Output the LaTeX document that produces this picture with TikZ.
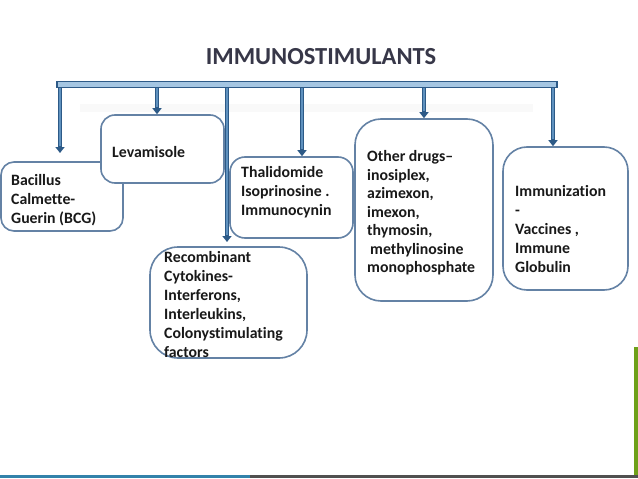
\documentclass[tikz,border=0pt]{standalone}
\usepackage{fontspec}
\setmainfont{Carlito}[Ligatures={TeX,NoCommon}]
\usetikzlibrary{arrows.meta}
\definecolor{conncol}{RGB}{45,90,135}
\definecolor{conninner}{RGB}{95,145,190}
\definecolor{barfill}{RGB}{165,198,226}
\definecolor{boxline}{RGB}{100,130,165}
\definecolor{txtc}{RGB}{25,25,25}
\definecolor{titlec}{RGB}{55,55,72}
\definecolor{greenc}{RGB}{110,160,25}
\definecolor{bluebot}{RGB}{50,130,170}
\definecolor{graybot}{RGB}{80,80,80}
\tikzset{
  box/.style={draw=boxline, line width=1.6pt, fill=white, rounded corners=#1, inner sep=0pt},
  box/.default=14pt,
  lbl/.style={anchor=north west, inner sep=0pt, align=left, text=txtc, font=\fontsize{15.8}{19}\selectfont\bfseries},
  connector/.style={draw=conncol, line width=4pt, -{Triangle[width=9pt,length=6pt]}},
  conncore/.style={draw=conninner, line width=1.4pt, shorten >=7pt},
}
\begin{document}
\begin{tikzpicture}[x=1pt,y=-1pt]
\useasboundingbox (0,0) rectangle (638,479);
\fill[white] (0,0) rectangle (638,479);
% faint shadow band
\fill[gray!5] (80,104) rectangle (533,112);
% title
\node[font=\fontsize{24.5}{28}\selectfont\bfseries, text=titlec, inner sep=0pt] (title) at (321,57) {IMMUNOSTIMULANTS};
% boxes
\node[box=13pt, minimum width=122pt, minimum height=69pt] (bcg) at (62,196.5) {};
\node[box=14pt, minimum width=123pt, minimum height=68pt] (lev) at (162.5,149) {};
\node[box=15pt, minimum width=123pt, minimum height=81pt] (thal) at (291.5,197.5) {};
\node[box=28pt, minimum width=157pt, minimum height=111pt] (rec) at (228.5,302.5) {};
\node[box=26pt, minimum width=138pt, minimum height=182pt] (oth) at (424,210) {};
\node[box=24pt, minimum width=125pt, minimum height=143pt] (imm) at (565.5,218.5) {};
% connectors
\coordinate (s1) at (60,86);
\coordinate (s2) at (157,86);
\coordinate (s3) at (227,86);
\coordinate (s4) at (302,86);
\coordinate (s5) at (424,86);
\coordinate (s6) at (553,86);
\coordinate (e1) at (60,153);
\coordinate (e3) at (227,242);
\draw[connector] (s1) -- (e1);
\draw[connector] (s2) -- (s2 |- lev.north);
\draw[connector] (s3) -- (e3);
\draw[connector] (s4) -- (s4 |- thal.north);
\draw[connector] (s5) -- (s5 |- oth.north);
\draw[connector] (s6) -- (s6 |- imm.north);
\draw[conncore] (s1) -- (e1);
\draw[conncore] (s2) -- (s2 |- lev.north);
\draw[conncore] (s3) -- (e3);
\draw[conncore] (s4) -- (s4 |- thal.north);
\draw[conncore] (s5) -- (s5 |- oth.north);
\draw[conncore] (s6) -- (s6 |- imm.north);
% bar
\node[draw=conncol, fill=barfill, line width=1.2pt, minimum width=500pt, minimum height=6.5pt, inner sep=0pt] (bar) at (307,84.5) {};
% texts
\node[lbl] (tbcg) at (11,171.5) {\strut Bacillus\\Calmette-\\Guerin (BCG)};
\node[lbl] (tlev) at (112,143.5) {\strut Levamisole};
\node[lbl] (tthal) at (241,163.5) {\strut Thalidomide\\Isoprinosine .\\Immunocynin};
\node[lbl] (trec) at (164,248.5) {\strut Recombinant\\Cytokines-\\Interferons,\\Interleukins,\\Colonystimulating\\factors};
\node[lbl, font=\fontsize{15.8}{18.5}\selectfont\bfseries] (toth) at (367,148.5) {\strut Other drugs--\\inosiplex,\\azimexon,\\imexon,\\thymosin,\\\hspace{3pt}methylinosine\\monophosphate};
\node[lbl, font=\fontsize{15.8}{18.8}\selectfont\bfseries] (timm) at (515,183.5) {\strut Immunization\\-\\Vaccines ,\\Immune\\Globulin};
% side and bottom decorations
\fill[greenc] (634,347) rectangle (638,476);
\fill[bluebot] (0,475) rectangle (250,478);
\fill[graybot] (250,475) rectangle (638,478);
\end{tikzpicture}
\end{document}
